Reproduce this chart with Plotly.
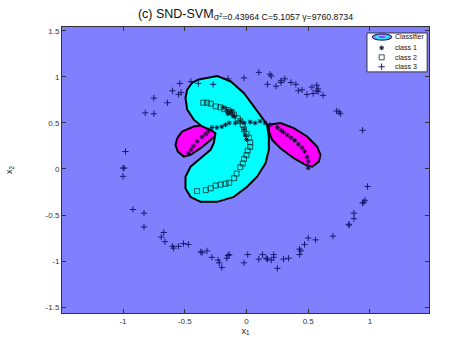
import plotly.graph_objects as go

# ---------------- data ----------------
# decision-region outlines (x1, x2)
cyan_x = [-0.386, -0.237, -0.130, -0.022, 0.059, 0.127, 0.167, 0.181, 0.181, 0.154, 0.086, 0.005,
          -0.103, -0.237, -0.372, -0.453, -0.494, -0.494, -0.453, -0.372, -0.291, -0.265, -0.251,
          -0.291, -0.359, -0.427, -0.480, -0.494, -0.480, -0.440]
cyan_y = [0.973, 1.009, 0.954, 0.827, 0.681, 0.554, 0.481, 0.353, 0.208, 0.062, -0.084, -0.193,
          -0.303, -0.357, -0.357, -0.303, -0.211, -0.084, 0.025, 0.117, 0.208, 0.281, 0.390,
          0.426, 0.462, 0.536, 0.645, 0.773, 0.863, 0.937]

magL_x = [-0.561, -0.521, -0.427, -0.318, -0.259, -0.243, -0.305, -0.372, -0.453, -0.508, -0.556, -0.575]
magL_y = [0.335, 0.408, 0.462, 0.481, 0.462, 0.372, 0.299, 0.226, 0.153, 0.135, 0.189, 0.262]

magR_x = [0.181, 0.275, 0.383, 0.491, 0.572, 0.599, 0.586, 0.532, 0.478, 0.383, 0.275, 0.208, 0.181]
magR_y = [0.481, 0.499, 0.444, 0.353, 0.244, 0.153, 0.080, 0.025, 0.044, 0.117, 0.226, 0.317, 0.408]

# class 1
c1_x = [-0.47, -0.45, -0.43, -0.40, -0.36, -0.33, -0.31, -0.28,
        -0.24, -0.20, -0.17, -0.14, -0.09, -0.05, -0.02, 0.03, 0.07, 0.11, 0.15, 0.19,
        0.25, 0.28, 0.30, 0.33, 0.36, 0.39, 0.42, 0.45, 0.47, 0.49, 0.50, 0.50,
        -0.19, -0.16, -0.15, -0.13, -0.11, -0.10, -0.15, -0.12, -0.02, -0.01, 0.00]
c1_y = [0.17, 0.21, 0.25, 0.30, 0.35, 0.38, 0.41, 0.45,
        0.45, 0.46, 0.48, 0.50, 0.50, 0.52, 0.50, 0.51, 0.50, 0.52, 0.50, 0.48,
        0.45, 0.42, 0.40, 0.37, 0.34, 0.31, 0.27, 0.23, 0.19, 0.13, 0.08, 0.01,
        0.67, 0.64, 0.62, 0.61, 0.59, 0.57, 0.60, 0.63, 0.43, 0.37, 0.32]

# class 2
c2_x = [-0.35, -0.32, -0.29, -0.25, -0.21, -0.18, -0.15, -0.12, -0.10, -0.07, -0.05, -0.03,
        -0.02, 0.00, 0.02, 0.03, 0.03, 0.01, 0.00, -0.02, -0.03, -0.05, -0.08, -0.10, -0.14,
        -0.17, -0.21, -0.25, -0.29, -0.33, -0.40]
c2_y = [0.72, 0.72, 0.71, 0.68, 0.67, 0.65, 0.64, 0.62, 0.59, 0.55, 0.52, 0.48,
        0.43, 0.38, 0.34, 0.29, 0.24, 0.20, 0.15, 0.11, 0.06, 0.02, -0.05, -0.10, -0.15,
        -0.16, -0.17, -0.18, -0.21, -0.23, -0.24]

# class 3
c3_x = [-0.82, -0.75, -0.75, -0.64, -0.60, -0.54, -0.55, -0.53, -0.45, -0.39, -0.27, -0.15, -0.02,
        0.10, 0.19, 0.20, 0.17, 0.24, 0.28, 0.28, 0.31, 0.36, 0.40, 0.42, 0.45, 0.49, 0.53, 0.54,
        0.57, 0.57, 0.58, 0.58, 0.62, 0.73, 0.75, 0.76, 0.94,
        0.98, 0.96, 0.94, 0.95, 0.87, 0.87, 0.83, 0.83, 0.70, 0.56, 0.50, 0.47, 0.44,
        -0.98, -1.00, -0.99, -1.00, -0.92, -0.83, -0.83, -0.67, -0.69, -0.66, -0.60, -0.59, -0.55,
        -0.51, -0.47, -0.37, -0.36, -0.32, -0.28, -0.23, -0.22, -0.20, -0.16, -0.15, -0.14,
        -0.02, 0.01, 0.10, 0.13, 0.16, 0.17, 0.20, 0.22, 0.22, 0.25, 0.30, 0.34, 0.43, 0.43]
c3_y = [0.61, 0.60, 0.77, 0.72, 0.85, 0.93, 0.81, 0.83, 0.95, 0.93, 0.92, 0.98, 0.99,
        1.05, 1.03, 1.01, 0.92, 0.90, 0.96, 0.94, 0.98, 0.94, 0.92, 0.85, 0.86, 0.81, 0.89, 0.82,
        0.91, 0.85, 0.84, 0.87, 0.80, 0.63, 0.62, 0.60, 0.42,
        -0.19, -0.34, -0.37, -0.36, -0.48, -0.54, -0.60, -0.61, -0.73, -0.77, -0.75, -0.82, -0.89,
        0.19, 0.01, 0.01, -0.08, -0.44, -0.48, -0.63, -0.69, -0.74, -0.79, -0.84, -0.86, -0.84,
        -0.81, -0.82, -0.90, -0.91, -0.89, -0.96, -0.99, -1.02, -1.07, -0.97, -0.94, -0.93,
        -1.02, -0.93, -0.98, -0.93, -0.97, -0.98, -0.99, -0.93, -0.96, -1.08, -0.98, -0.97, -0.93, -0.87]

x_ticks = [-1, -0.5, 0, 0.5, 1]
y_ticks = [-1.5, -1, -0.5, 0, 0.5, 1, 1.5]
legend_names = ["Classifier", "class 1", "class 2", "class 3"]

BG = "#8080FF"
CYAN = "#00FFFF"
MAG = "#FF00FF"
C1 = "#101030"
C2 = "#103030"
C3 = "#1a1a70"

fig = go.Figure()

for xs, ys in [(magL_x, magL_y), (magR_x, magR_y)]:
    fig.add_trace(go.Scatter(x=xs + xs[:1], y=ys + ys[:1], mode="lines", fill="toself",
                             fillcolor=MAG, line=dict(color="black", width=2), hoverinfo="skip"))
fig.add_trace(go.Scatter(x=cyan_x + cyan_x[:1], y=cyan_y + cyan_y[:1], mode="lines", fill="toself",
                         fillcolor=CYAN, line=dict(color="black", width=2), hoverinfo="skip"))

m1 = dict(symbol="asterisk", size=4, color=C1, line=dict(color=C1, width=1))
m2 = dict(symbol="square-open", size=5, color=C2, line=dict(width=0.8))
m3 = dict(symbol="cross-thin", size=4.5, color=C3, line=dict(color=C3, width=1))

fig.add_trace(go.Scatter(x=c1_x, y=c1_y, mode="markers", name="class 1", marker=m1))
fig.add_trace(go.Scatter(x=c2_x, y=c2_y, mode="markers", name="class 2", marker=m2))
fig.add_trace(go.Scatter(x=c3_x, y=c3_y, mode="markers", name="class 3", marker=m3))

# ---- hand-made legend (layout positions in plot-area fractions) ----
LX0, LX1, LY0, LY1 = 0.831, 0.995, 0.843, 0.979
row_y = [0.966, 0.927, 0.894, 0.861]
icon_x, text_x = 0.871, 0.902
shapes = [
    dict(type="rect", xref="paper", yref="paper", x0=LX0, x1=LX1, y0=LY0, y1=LY1,
         fillcolor="white", line=dict(color="#333333", width=1), layer="below"),
    dict(type="circle", xref="paper", yref="paper", x0=0.845, x1=0.899, y0=0.954, y1=0.976,
         fillcolor=BG, line=dict(color="#202040", width=1), layer="below"),
    dict(type="circle", xref="paper", yref="paper", x0=0.853, x1=0.891, y0=0.958, y1=0.972,
         fillcolor=CYAN, line=dict(width=0), layer="below"),
    dict(type="circle", xref="paper", yref="paper", x0=0.862, x1=0.882, y0=0.961, y1=0.969,
         fillcolor="#a040ff", line=dict(width=0), layer="below"),
]
annotations = [dict(x=text_x, y=ry, xref="paper", yref="paper", text=name, showarrow=False,
                    xanchor="left", yanchor="middle", font=dict(size=7, color="#111111"))
               for name, ry in zip(legend_names, row_y)]
for mk, ry in zip([m1, m2, m3], row_y[1:]):
    fig.add_trace(go.Scatter(x=[icon_x], y=[ry], xaxis="x2", yaxis="y2", mode="markers",
                             marker=mk, hoverinfo="skip"))

axis_common = dict(showgrid=False, zeroline=False, ticks="inside", ticklen=4, tickwidth=1,
                   tickcolor="#333333", showline=True, linecolor="#333333", linewidth=1,
                   mirror="ticks", tickfont=dict(size=8, color="#333333"), automargin=False)

fig.update_layout(
    width=474, height=352,
    margin=dict(l=62, r=45, t=27, b=39),
    paper_bgcolor="white", plot_bgcolor=BG,
    showlegend=False,
    font=dict(family="Liberation Sans, Arial, sans-serif", color="#222222"),
    title=dict(text="(c) SND-SVM<sub>σ<sup>2</sup>=0.43964 C=5.1057 γ=9760.8734</sub>",
               x=0.5, xref="paper", xanchor="center", y=0.975, yanchor="top",
               font=dict(size=12.5, color="#111111")),
    xaxis=dict(range=[-1.494, 1.478], tickvals=x_ticks, ticktext=[f"{v:g}" for v in x_ticks],
               title=dict(text="x<sub>1</sub>", font=dict(size=9), standoff=2), **axis_common),
    yaxis=dict(range=[-1.565, 1.543], tickvals=y_ticks, ticktext=[f"{v:g}" for v in y_ticks],
               title=dict(text="x<sub>2</sub>", font=dict(size=9), standoff=31), **axis_common),
    xaxis2=dict(range=[0, 1], overlaying="x", visible=False, fixedrange=True),
    yaxis2=dict(range=[0, 1], overlaying="y", visible=False, fixedrange=True),
    shapes=shapes,
    annotations=annotations,
)

fig.write_html("out.html")
